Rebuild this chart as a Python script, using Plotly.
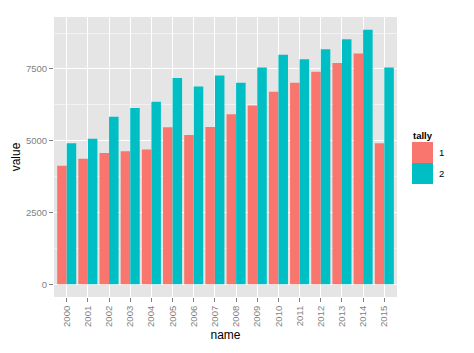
import plotly.graph_objects as go

names = [str(y) for y in range(2000, 2016)]
tally1 = [4130, 4375, 4570, 4630, 4690, 5470, 5195, 5475, 5920, 6230, 6705, 7020, 7400, 7710, 8035, 4915]
tally2 = [4915, 5065, 5830, 6140, 6360, 7180, 6890, 7270, 7020, 7550, 7990, 7840, 8185, 8530, 8865, 7550]
series_names = ["1", "2"]
colors = ["#F8766D", "#00BFC4"]
y_ticks = [0, 2500, 5000, 7500]

fig = go.Figure()
for nm, vals, col in zip(series_names, [tally1, tally2], colors):
    fig.add_trace(go.Bar(x=names, y=vals, name=nm, marker=dict(color=col, line=dict(width=0)),
                         showlegend=False))

ymax = max(max(tally1), max(tally2))
fig.update_layout(
    width=474, height=353,
    margin=dict(l=54, r=77, t=17, b=56),
    paper_bgcolor="white", plot_bgcolor="#E5E5E5",
    barmode="group", bargap=0.1, bargroupgap=0,
    font=dict(family="Liberation Sans, Arial, sans-serif", color="black"),
    xaxis=dict(type="category", range=[-0.6, 15.6], showgrid=True, gridcolor="white", gridwidth=1,
               ticks="outside", ticklen=4, tickcolor="#7F7F7F", tickangle=-90,
               tickfont=dict(size=9.5, color="#7F7F7F"), zeroline=False,
               title=dict(text="name", font=dict(size=12), standoff=4)),
    yaxis=dict(range=[-0.05 * ymax, 1.05 * ymax], tickvals=y_ticks, showgrid=True, gridcolor="white",
               gridwidth=1, ticks="outside", ticklen=4, tickcolor="#7F7F7F",
               tickfont=dict(size=9.5, color="#7F7F7F"), zeroline=False,
               minor=dict(tickvals=[1250, 3750, 6250, 8750], showgrid=True, gridcolor="#F2F2F2", gridwidth=1, ticks=""),
               title=dict(text="value", font=dict(size=12), standoff=2)),
)

# ggplot-style legend drawn in paper pixels
W, H = 474, 353
pl, pr, pt, pb = 54, 77, 17, 56
pw, ph = W - pl - pr, H - pt - pb
def px(x):
    return (x - pl) / pw
def py(y):
    return 1 - (y - pt) / ph

fig.add_annotation(x=px(411), y=py(135), xref="paper", yref="paper", text="<b>tally</b>",
                   showarrow=False, xanchor="left", yanchor="middle", font=dict(size=9.5, color="black"))
for i, (nm, col) in enumerate(zip(series_names, colors)):
    y0 = 142 + i * 21
    fig.add_shape(type="rect", xref="paper", yref="paper", x0=px(412), x1=px(433), y0=py(y0), y1=py(y0 + 21),
                  fillcolor=col, line=dict(width=0), layer="above")
    fig.add_annotation(x=px(437), y=py(y0 + 10.5), xref="paper", yref="paper", text=nm,
                       showarrow=False, xanchor="left", yanchor="middle", font=dict(size=9.5, color="black"))

fig.write_html("out.html")
